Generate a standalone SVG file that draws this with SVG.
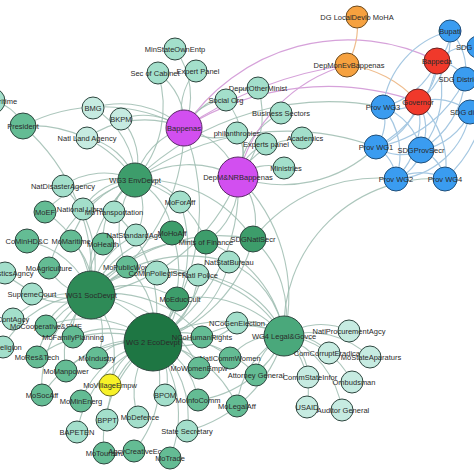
<svg xmlns="http://www.w3.org/2000/svg" width="474" height="474" viewBox="0 0 474 474">
<style>
.e{fill:none;stroke:#9dbcb0;stroke-width:1.1;opacity:.85}
.p{fill:none;stroke:#d6a2da;stroke-width:1.2}
.b{fill:none;stroke:#a6c8e2;stroke-width:1.2}
.o{fill:none;stroke:#efbd8e;stroke-width:1.2}
circle{stroke:#2e463f;stroke-width:1}
.l1{fill:#c6ebe1}.l2{fill:#a3dfcb}.m{fill:#64bc94}.d{fill:#3d9d6b}
.w1{fill:#2e8b57}.w2{fill:#1e7643}.w4{fill:#4aa87b}
.mg{fill:#d24ff0;stroke:#5a2a66}.or{fill:#f6a13f;stroke:#6a4a20}.rd{fill:#f0392b;stroke:#6a2020}.bl{fill:#3a9cf0;stroke:#1f4f7a}.yl{fill:#f7f128;stroke:#6a6a20}
text{font-family:"Liberation Sans",Arial,sans-serif;font-size:7.5px;fill:#2a2a2a;text-anchor:middle}
</style>
<rect width="474" height="474" fill="#fff"/>
<g id="connectors">
<path class="e" d="M91,295 A50,50 0 0 1 49,268"/>
<path class="e" d="M91,295 A60,60 0 0 1 32,294"/>
<path class="e" d="M91,295 A90,90 0 0 1 5,273"/>
<path class="e" d="M13,319 A85,85 0 0 1 91,295"/>
<path class="e" d="M46,326 A55,55 0 0 1 91,295"/>
<path class="e" d="M73,337 A45,45 0 0 1 91,295"/>
<path class="e" d="M37,357 A85,85 0 0 1 91,295"/>
<path class="e" d="M3,347 A100,100 0 0 1 91,295"/>
<path class="e" d="M91,295 A65,65 0 0 1 97,358"/>
<path class="e" d="M66,371 A80,80 0 0 1 91,295"/>
<path class="e" d="M42,395 A110,110 0 0 1 91,295"/>
<path class="e" d="M91,295 A55,55 0 0 1 103,244"/>
<path class="e" d="M71,241 A60,60 0 0 1 91,295"/>
<path class="e" d="M27,241 A85,85 0 0 1 91,295"/>
<path class="e" d="M45,212 A100,100 0 0 1 91,295"/>
<path class="e" d="M63,186 A112,112 0 0 1 91,295"/>
<path class="e" d="M91,295 A77,77 0 0 1 136,235"/>
<path class="e" d="M91,295 A45,45 0 0 1 127,267"/>
<path class="e" d="M91,295 A71,71 0 0 1 157,273"/>
<path class="e" d="M91,295 A86,86 0 0 1 177,299"/>
<path class="e" d="M91,295 A103,103 0 0 1 172,233"/>
<path class="e" d="M91,295 A125,125 0 0 1 206,242"/>
<path class="e" d="M91,295 A170,170 0 0 1 253,239"/>
<path class="e" d="M91,295 A141,141 0 0 1 229,262"/>
<path class="e" d="M91,295 A79,79 0 0 1 153,342"/>
<path class="e" d="M91,295 A123,123 0 0 1 135,180"/>
<path class="e" d="M23,126 A200,200 0 0 1 91,295"/>
<path class="e" d="M184,128 A200,200 0 0 1 91,295"/>
<path class="e" d="M238,177 A190,190 0 0 1 91,295"/>
<path class="e" d="M91,295 A130,130 0 0 1 199,368"/>
<path class="e" d="M91,295 A118,118 0 0 1 202,337"/>
<path class="e" d="M91,295 A108,108 0 0 1 198,275"/>
<path class="e" d="M91,295 A93,93 0 0 1 110,385"/>
<path class="e" d="M97,358 A58,58 0 0 1 153,342"/>
<path class="e" d="M66,371 A94,94 0 0 1 153,342"/>
<path class="e" d="M110,385 A57,57 0 0 1 153,342"/>
<path class="e" d="M81,401 A93,93 0 0 1 153,342"/>
<path class="e" d="M107,420 A91,91 0 0 1 153,342"/>
<path class="e" d="M138,417 A77,77 0 0 1 153,342"/>
<path class="e" d="M77,432 A118,118 0 0 1 153,342"/>
<path class="e" d="M104,453 A123,123 0 0 1 153,342"/>
<path class="e" d="M153,342 A111,111 0 0 1 134,451"/>
<path class="e" d="M153,342 A55,55 0 0 1 165,395"/>
<path class="e" d="M153,342 A116,116 0 0 1 170,458"/>
<path class="e" d="M153,342 A95,95 0 0 1 187,431"/>
<path class="e" d="M153,342 A74,74 0 0 1 198,400"/>
<path class="e" d="M153,342 A54,54 0 0 1 199,368"/>
<path class="e" d="M153,342 A49,49 0 0 1 202,337"/>
<path class="e" d="M153,342 A131,131 0 0 1 284,336"/>
<path class="e" d="M180,202 A143,143 0 0 1 153,342"/>
<path class="e" d="M206,242 A113,113 0 0 1 153,342"/>
<path class="e" d="M172,233 A111,111 0 0 1 153,342"/>
<path class="e" d="M253,239 A143,143 0 0 1 153,342"/>
<path class="e" d="M127,267 A80,80 0 0 1 153,342"/>
<path class="e" d="M114,212 A135,135 0 0 1 153,342"/>
<path class="e" d="M238,177 A183,183 0 0 1 153,342"/>
<path class="e" d="M184,128 A216,216 0 0 1 153,342"/>
<path class="e" d="M73,337 A80,80 0 0 1 153,342"/>
<path class="e" d="M46,326 A110,110 0 0 1 153,342"/>
<path class="e" d="M42,395 A121,121 0 0 1 153,342"/>
<path class="e" d="M37,357 A118,118 0 0 1 153,342"/>
<path class="e" d="M177,299 A50,50 0 0 1 153,342"/>
<path class="e" d="M229,262 A109,109 0 0 1 153,342"/>
<path class="e" d="M153,342 A79,79 0 0 1 230,358"/>
<path class="e" d="M153,342 A107,107 0 0 1 237,406"/>
<path class="e" d="M153,342 A107,107 0 0 1 256,375"/>
<path class="e" d="M237,323 A86,86 0 0 1 153,342"/>
<path class="e" d="M198,275 A82,82 0 0 1 153,342"/>
<path class="e" d="M63,186 A72,72 0 0 1 135,180"/>
<path class="e" d="M45,212 A97,97 0 0 1 135,180"/>
<path class="e" d="M83,209 A60,60 0 0 1 135,180"/>
<path class="e" d="M114,212 A38,38 0 0 1 135,180"/>
<path class="e" d="M135,180 A50,50 0 0 1 180,202"/>
<path class="e" d="M135,180 A55,55 0 0 1 136,235"/>
<path class="e" d="M71,241 A89,89 0 0 1 135,180"/>
<path class="e" d="M103,244 A72,72 0 0 1 135,180"/>
<path class="e" d="M49,268 A124,124 0 0 1 135,180"/>
<path class="e" d="M127,267 A87,87 0 0 1 135,180"/>
<path class="e" d="M135,180 A66,66 0 0 1 172,233"/>
<path class="e" d="M135,180 A95,95 0 0 1 206,242"/>
<path class="e" d="M135,180 A131,131 0 0 1 253,239"/>
<path class="e" d="M135,180 A72,72 0 0 1 184,128"/>
<path class="e" d="M135,180 A103,103 0 0 1 238,177"/>
<path class="e" d="M93,108 A84,84 0 0 1 135,180"/>
<path class="e" d="M121,119 A62,62 0 0 1 135,180"/>
<path class="e" d="M87,138 A63,63 0 0 1 135,180"/>
<path class="e" d="M158,73 A110,110 0 0 1 135,180"/>
<path class="e" d="M23,126 A125,125 0 0 1 135,180"/>
<path class="e" d="M135,180 A260,260 0 0 1 376,147"/>
<path class="e" d="M135,180 A280,280 0 0 1 383,107"/>
<path class="e" d="M237,323 A49,49 0 0 1 284,336"/>
<path class="e" d="M230,358 A58,58 0 0 1 284,336"/>
<path class="e" d="M256,375 A48,48 0 0 1 284,336"/>
<path class="e" d="M237,406 A87,87 0 0 1 284,336"/>
<path class="e" d="M284,336 A65,65 0 0 1 349,331"/>
<path class="e" d="M284,336 A50,50 0 0 1 329,353"/>
<path class="e" d="M284,336 A89,89 0 0 1 370,357"/>
<path class="e" d="M284,336 A47,47 0 0 1 308,377"/>
<path class="e" d="M284,336 A82,82 0 0 1 352,382"/>
<path class="e" d="M284,336 A77,77 0 0 1 307,407"/>
<path class="e" d="M284,336 A94,94 0 0 1 342,410"/>
<path class="e" d="M198,275 A104,104 0 0 1 284,336"/>
<path class="e" d="M177,299 A115,115 0 0 1 284,336"/>
<path class="e" d="M253,239 A101,101 0 0 1 284,336"/>
<path class="e" d="M206,242 A118,118 0 0 1 284,336"/>
<path class="e" d="M157,273 A135,135 0 0 1 284,336"/>
<path class="e" d="M202,337 A82,82 0 0 1 284,336"/>
<path class="e" d="M238,177 A166,166 0 0 1 284,336"/>
<path class="e" d="M284,336 A150,150 0 0 1 445,179"/>
<path class="e" d="M284,336 A137,137 0 0 1 187,431"/>
<path class="e" d="M284,336 A110,110 0 0 1 198,400"/>
<path class="e" d="M229,262 A95,95 0 0 1 284,336"/>
<path class="e" d="M158,73 A62,62 0 0 1 184,128"/>
<path class="e" d="M175,49 A80,80 0 0 1 184,128"/>
<path class="e" d="M184,128 A59,59 0 0 1 196,71"/>
<path class="e" d="M184,128 A50,50 0 0 1 226,100"/>
<path class="e" d="M184,128 A86,86 0 0 1 258,88"/>
<path class="e" d="M237,133 A53,53 0 0 1 184,128"/>
<path class="e" d="M184,128 A74,74 0 0 1 238,177"/>
<path class="e" d="M23,126 A170,170 0 0 1 184,128"/>
<path class="e" d="M93,108 A95,95 0 0 1 184,128"/>
<path class="e" d="M121,119 A70,70 0 0 1 184,128"/>
<path class="e" d="M87,138 A100,100 0 0 1 184,128"/>
<path class="e" d="M-8,101 A40,40 0 0 1 23,126"/>
<path class="e" d="M238,177 A80,80 0 0 1 281,113"/>
<path class="e" d="M238,177 A45,45 0 0 1 266,144"/>
<path class="e" d="M238,177 A76,76 0 0 1 302,138"/>
<path class="e" d="M238,177 A47,47 0 0 1 284,168"/>
<path class="e" d="M237,133 A44,44 0 0 1 238,177"/>
<path class="e" d="M226,100 A78,78 0 0 1 238,177"/>
<path class="e" d="M258,88 A90,90 0 0 1 238,177"/>
<path class="e" d="M238,177 A64,64 0 0 1 253,239"/>
<path class="e" d="M238,177 A72,72 0 0 1 206,242"/>
<path class="e" d="M376,147 A134,134 0 0 1 238,177"/>
<path class="e" d="M253,239 A160,160 0 0 1 396,179"/>
<path class="p" d="M184,128 A197,197 0 0 1 437,61"/>
<path class="p" d="M184,128 A390,390 0 0 1 347,65"/>
<path class="p" d="M238,177 A156,156 0 0 1 347,65"/>
<path class="p" d="M184,128 A270,270 0 0 1 418,102"/>
<path class="o" d="M357,17 A80,80 0 0 1 347,65"/>
<path class="o" d="M347,65 A110,110 0 0 1 418,102"/>
<path class="b" d="M450,31 A40,40 0 0 1 437,61"/>
<path class="b" d="M437,61 A45,45 0 0 1 478,47"/>
<path class="b" d="M437,61 A35,35 0 0 1 465,79"/>
<path class="b" d="M437,61 A50,50 0 0 1 418,102"/>
<path class="b" d="M437,61 A80,80 0 0 1 383,107"/>
<path class="b" d="M437,61 A95,95 0 0 1 421,150"/>
<path class="b" d="M437,61 A115,115 0 0 1 376,147"/>
<path class="b" d="M418,102 A40,40 0 0 1 383,107"/>
<path class="b" d="M418,102 A50,50 0 0 1 421,150"/>
<path class="b" d="M418,102 A65,65 0 0 1 376,147"/>
<path class="b" d="M418,102 A85,85 0 0 1 396,179"/>
<path class="b" d="M418,102 A85,85 0 0 1 445,179"/>
<path class="b" d="M418,102 A55,55 0 0 1 470,112"/>
<path class="b" d="M421,150 A45,45 0 0 1 376,147"/>
<path class="b" d="M421,150 A40,40 0 0 1 396,179"/>
<path class="b" d="M421,150 A40,40 0 0 1 445,179"/>
<path class="b" d="M383,107 A60,60 0 0 1 421,150"/>
<path class="b" d="M470,112 A65,65 0 0 1 421,150"/>
<path class="b" d="M465,79 A90,90 0 0 1 421,150"/>
<path class="b" d="M376,147 A40,40 0 0 1 396,179"/>
<path class="b" d="M383,107 A45,45 0 0 1 376,147"/>
<path class="b" d="M396,179 A50,50 0 0 1 445,179"/>
<path class="b" d="M450,31 A55,55 0 0 1 465,79"/>
<path class="b" d="M383,107 A75,75 0 0 1 396,179"/>
<path class="b" d="M465,79 A120,120 0 0 1 376,147"/>
<path class="b" d="M470,112 A80,80 0 0 1 396,179"/>
<path class="b" d="M450,31 A80,80 0 0 1 418,102"/>
<path class="b" d="M478,47 A120,120 0 0 1 445,179"/>
<path class="b" d="M383,107 A90,90 0 0 1 450,31"/>
</g>
<g id="n-CoMinMaritime"><circle class="l2" cx="-8" cy="101" r="13"/><text x="-8" y="104">CoMinMaritime</text></g>
<g id="n-President"><circle class="m" cx="23" cy="126" r="13"/><text x="23" y="129">President</text></g>
<g id="n-BMG"><circle class="l1" cx="93" cy="108" r="11"/><text x="93" y="111">BMG</text></g>
<g id="n-BKPM"><circle class="l1" cx="121" cy="119" r="11"/><text x="121" y="122">BKPM</text></g>
<g id="n-NatlLandAgency"><circle class="l1" cx="87" cy="138" r="11"/><text x="87" y="141">Natl Land Agency</text></g>
<g id="n-SecCabinet"><circle class="l2" cx="158" cy="73" r="11"/><text x="155" y="76">Sec of Cabinet</text></g>
<g id="n-MinStateOwnEntp"><circle class="l2" cx="175" cy="49" r="11"/><text x="175" y="52">MinStateOwnEntp</text></g>
<g id="n-ExpertPanel"><circle class="l2" cx="196" cy="71" r="11"/><text x="198" y="74">Expert Panel</text></g>
<g id="n-Bappenas"><circle class="mg" cx="184" cy="128" r="18"/><text x="184" y="131">Bappenas</text></g>
<g id="n-DeputOtherMinist"><circle class="l2" cx="258" cy="88" r="11"/><text x="258" y="91">DeputOtherMinist</text></g>
<g id="n-SocialOrg"><circle class="l2" cx="226" cy="100" r="11"/><text x="226" y="103">Social Org</text></g>
<g id="n-BusinessSectors"><circle class="l2" cx="281" cy="113" r="11"/><text x="281" y="116">Business Sectors</text></g>
<g id="n-philanthropies"><circle class="l2" cx="237" cy="133" r="11"/><text x="237" y="136">philanthropies</text></g>
<g id="n-Expertspanel"><circle class="l2" cx="266" cy="144" r="11"/><text x="266" y="147">Experts panel</text></g>
<g id="n-Academics"><circle class="l2" cx="302" cy="138" r="11"/><text x="305" y="141">Academics</text></g>
<g id="n-DepMNRBappenas"><circle class="mg" cx="238" cy="177" r="20"/><text x="238" y="180">DepM&amp;NRBappenas</text></g>
<g id="n-Ministries"><circle class="l2" cx="284" cy="168" r="11"/><text x="286" y="171">Ministries</text></g>
<g id="n-DGLocalDevlo"><circle class="or" cx="357" cy="17" r="11"/><text x="357" y="20">DG LocalDevlo MoHA</text></g>
<g id="n-DepMonEvBappenas"><circle class="or" cx="347" cy="65" r="12"/><text x="349" y="68">DepMonEvBappenas</text></g>
<g id="n-Bupati"><circle class="bl" cx="450" cy="31" r="11"/><text x="450" y="34">Bupati</text></g>
<g id="n-SDGdistrict1"><circle class="bl" cx="478" cy="47" r="11"/><text x="476" y="50">SDG district</text></g>
<g id="n-Bappeda"><circle class="rd" cx="437" cy="61" r="13"/><text x="437" y="64">Bappeda</text></g>
<g id="n-SDGDistrict"><circle class="bl" cx="465" cy="79" r="12"/><text x="459" y="82">SDG District</text></g>
<g id="n-Governor"><circle class="rd" cx="418" cy="102" r="13"/><text x="418" y="105">Governor</text></g>
<g id="n-SDGdistrict2"><circle class="bl" cx="470" cy="112" r="12"/><text x="470" y="115">SDG district</text></g>
<g id="n-ProvWG3"><circle class="bl" cx="383" cy="107" r="12"/><text x="383" y="110">Prov WG3</text></g>
<g id="n-ProvWG1"><circle class="bl" cx="376" cy="147" r="12"/><text x="376" y="150">Prov WG1</text></g>
<g id="n-SDGProvSecr"><circle class="bl" cx="421" cy="150" r="13"/><text x="421" y="153">SDGProvSecr</text></g>
<g id="n-ProvWG2"><circle class="bl" cx="396" cy="179" r="12"/><text x="396" y="182">Prov WG2</text></g>
<g id="n-ProvWG4"><circle class="bl" cx="445" cy="179" r="12"/><text x="445" y="182">Prov WG4</text></g>
<g id="n-WG3"><circle class="d" cx="135" cy="180" r="17"/><text x="135" y="183">WG3 EnvDevpt</text></g>
<g id="n-NatDisasterAgency"><circle class="l2" cx="63" cy="186" r="11"/><text x="63" y="189">NatDisasterAgency</text></g>
<g id="n-MoEF"><circle class="m" cx="45" cy="212" r="11"/><text x="45" y="215">MoEF</text></g>
<g id="n-NationalLibrary"><circle class="l2" cx="83" cy="209" r="11"/><text x="83" y="212">National Library</text></g>
<g id="n-MoTransportation"><circle class="l2" cx="114" cy="212" r="11"/><text x="114" y="215">MoTransportation</text></g>
<g id="n-CoMinHDC"><circle class="m" cx="27" cy="241" r="12"/><text x="27" y="244">CoMinHD&amp;C</text></g>
<g id="n-MoMaritime"><circle class="m" cx="71" cy="241" r="11"/><text x="71" y="244">MoMaritime</text></g>
<g id="n-MoHealth"><circle class="m" cx="103" cy="244" r="11"/><text x="103" y="247">MoHealth</text></g>
<g id="n-NatStandardAgcy"><circle class="l2" cx="136" cy="235" r="11"/><text x="136" y="238">NatStandardAgcy</text></g>
<g id="n-MoForAff"><circle class="l2" cx="180" cy="202" r="11"/><text x="180" y="205">MoForAff</text></g>
<g id="n-MoHoAff"><circle class="d" cx="172" cy="233" r="12"/><text x="172" y="236">MoHoAff</text></g>
<g id="n-MinisFinance"><circle class="d" cx="206" cy="242" r="12"/><text x="206" y="245">Minis of Finance</text></g>
<g id="n-SDGNatlSecr"><circle class="d" cx="253" cy="239" r="13"/><text x="253" y="242">SDGNatlSecr</text></g>
<g id="n-NatStatBureau"><circle class="l2" cx="229" cy="262" r="11"/><text x="229" y="265">NatStatBureau</text></g>
<g id="n-MoAgriculture"><circle class="m" cx="49" cy="268" r="11"/><text x="49" y="271">MoAgriculture</text></g>
<g id="n-StatisticsAgncy"><circle class="l2" cx="5" cy="273" r="11"/><text x="8" y="276">StatisticsAgncy</text></g>
<g id="n-MoPublicWork"><circle class="m" cx="127" cy="267" r="11"/><text x="127" y="270">MoPublicWork</text></g>
<g id="n-CoMinPolleglSec"><circle class="l2" cx="157" cy="273" r="12"/><text x="157" y="276">CoMinPolleglSec</text></g>
<g id="n-NatlPolice"><circle class="l2" cx="198" cy="275" r="11"/><text x="200" y="278">Natl Police</text></g>
<g id="n-SupremeCourt"><circle class="l2" cx="32" cy="294" r="11"/><text x="32" y="297">SupremeCourt</text></g>
<g id="n-WG1"><circle class="w1" cx="91" cy="295" r="24"/><text x="91" y="298">WG1 SocDevpt</text></g>
<g id="n-MoEducCult"><circle class="d" cx="177" cy="299" r="12"/><text x="180" y="302">MoEducCult</text></g>
<g id="n-ContAgcy"><circle class="l2" cx="13" cy="319" r="11"/><text x="13" y="322">ContAgcy</text></g>
<g id="n-MoCooperativeSME"><circle class="m" cx="46" cy="326" r="11"/><text x="46" y="329">MoCooperative&amp;SME</text></g>
<g id="n-MoFamilyPlanning"><circle class="m" cx="73" cy="337" r="11"/><text x="73" y="340">MoFamilyPlanning</text></g>
<g id="n-MoReligion"><circle class="l2" cx="3" cy="347" r="11"/><text x="3" y="350">MoReligion</text></g>
<g id="n-MoResTech"><circle class="m" cx="37" cy="357" r="11"/><text x="37" y="360">MoRes&amp;Tech</text></g>
<g id="n-MoIndustry"><circle class="m" cx="97" cy="358" r="11"/><text x="97" y="361">MoIndustry</text></g>
<g id="n-MoManpower"><circle class="m" cx="66" cy="371" r="11"/><text x="66" y="374">MoManpower</text></g>
<g id="n-MoVillageEmpw"><circle class="yl" cx="110" cy="385" r="11"/><text x="110" y="388">MoVillageEmpw</text></g>
<g id="n-MoSocAff"><circle class="m" cx="42" cy="395" r="11"/><text x="42" y="398">MoSocAff</text></g>
<g id="n-MoMinEnerg"><circle class="m" cx="81" cy="401" r="11"/><text x="81" y="404">MoMinEnerg</text></g>
<g id="n-BPPT"><circle class="l2" cx="107" cy="420" r="11"/><text x="107" y="423">BPPT</text></g>
<g id="n-MoDefence"><circle class="l2" cx="138" cy="417" r="11"/><text x="140" y="420">MoDefence</text></g>
<g id="n-BAPETEN"><circle class="l2" cx="77" cy="432" r="11"/><text x="77" y="435">BAPETEN</text></g>
<g id="n-MoTourism"><circle class="m" cx="104" cy="453" r="11"/><text x="104" y="456">MoTourism</text></g>
<g id="n-AgcyCreativeEco"><circle class="m" cx="134" cy="451" r="11"/><text x="137" y="454">AgcyCreativeEco</text></g>
<g id="n-WG2"><circle class="w2" cx="153" cy="342" r="29"/><text x="153" y="345">WG 2 EcoDevpt</text></g>
<g id="n-NCoHumanRights"><circle class="m" cx="202" cy="337" r="11"/><text x="202" y="340">NCoHumanRights</text></g>
<g id="n-NCoGenElection"><circle class="l2" cx="237" cy="323" r="11"/><text x="237" y="326">NCoGenElection</text></g>
<g id="n-WG4"><circle class="w4" cx="284" cy="336" r="20"/><text x="284" y="339">WG4 Legal&amp;Govce</text></g>
<g id="n-NatlCommWomen"><circle class="m" cx="230" cy="358" r="11"/><text x="230" y="361">NatlCommWomen</text></g>
<g id="n-MoWomenEmpw"><circle class="m" cx="199" cy="368" r="11"/><text x="199" y="371">MoWomenEmpw</text></g>
<g id="n-AttorneyGeneral"><circle class="m" cx="256" cy="375" r="11"/><text x="256" y="378">Attorney General</text></g>
<g id="n-BPOM"><circle class="l2" cx="165" cy="395" r="11"/><text x="165" y="398">BPOM</text></g>
<g id="n-MoInfoComm"><circle class="m" cx="198" cy="400" r="11"/><text x="198" y="403">MoInfoComm</text></g>
<g id="n-MoLegalAff"><circle class="m" cx="237" cy="406" r="11"/><text x="237" y="409">MoLegalAff</text></g>
<g id="n-StateSecretary"><circle class="l2" cx="187" cy="431" r="11"/><text x="187" y="434">State Secretary</text></g>
<g id="n-MoTrade"><circle class="m" cx="170" cy="458" r="11"/><text x="170" y="461">MoTrade</text></g>
<g id="n-NatlProcurementAgcy"><circle class="l1" cx="349" cy="331" r="11"/><text x="349" y="334">NatlProcurementAgcy</text></g>
<g id="n-ComCorruptEradicatn"><circle class="l1" cx="329" cy="353" r="11"/><text x="330" y="356">ComCorruptEradicatn</text></g>
<g id="n-MoStateAparaturs"><circle class="l1" cx="370" cy="357" r="11"/><text x="371" y="360">MoStateAparaturs</text></g>
<g id="n-CommStateInfor"><circle class="l1" cx="308" cy="377" r="11"/><text x="310" y="380">CommStateInfor</text></g>
<g id="n-Ombudsman"><circle class="l1" cx="352" cy="382" r="11"/><text x="354" y="385">Ombudsman</text></g>
<g id="n-USAID"><circle class="l1" cx="307" cy="407" r="11"/><text x="307" y="410">USAID</text></g>
<g id="n-AuditorGeneral"><circle class="l1" cx="342" cy="410" r="11"/><text x="343" y="413">Auditor General</text></g>
</svg>
